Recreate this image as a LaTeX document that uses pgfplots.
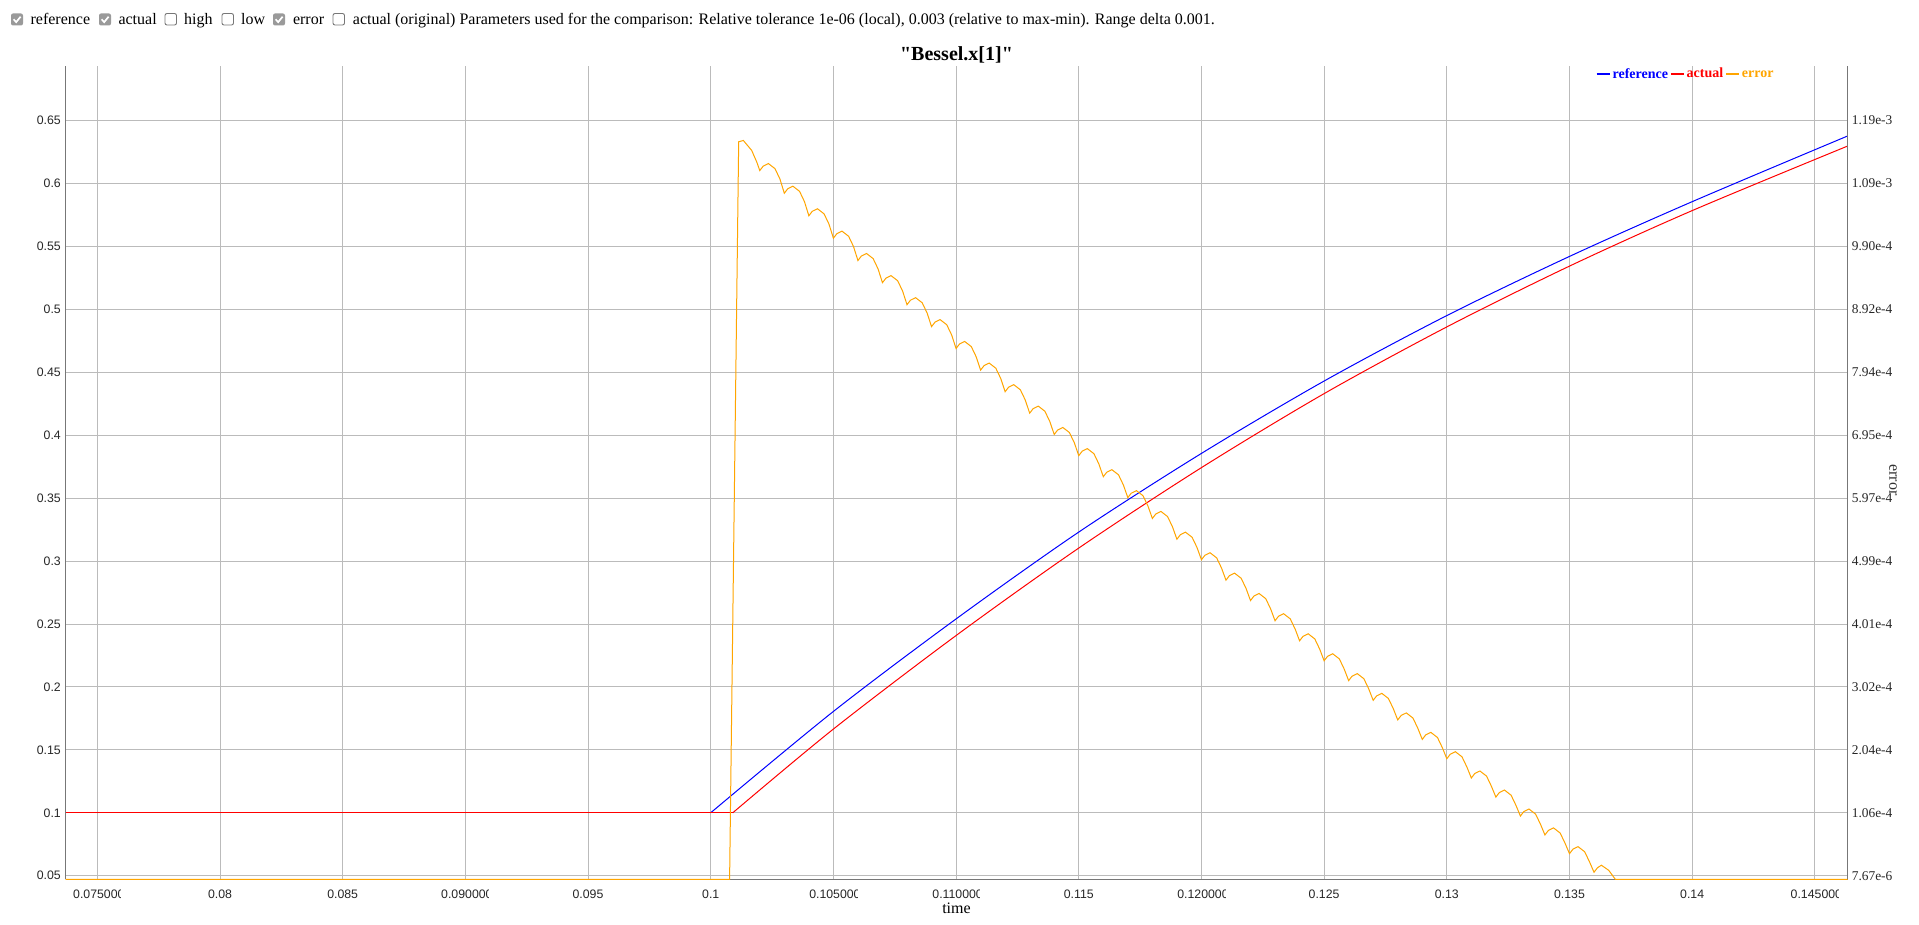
\documentclass[border=0pt]{standalone}
\usepackage{fontspec}
\setmainfont{Liberation Serif}
\newfontfamily\plainserif{Liberation Serif}
\newfontfamily\ticksans{Liberation Sans}
\usepackage{pgfplots}
\pgfplotsset{compat=1.18}
\definecolor{refblue}{HTML}{0000FF}
\definecolor{actred}{HTML}{FF0000}
\definecolor{errorange}{HTML}{FFA500}
\definecolor{gridgray}{HTML}{BBBBBB}
\definecolor{axgray}{HTML}{777777}
\definecolor{cbgray}{HTML}{9A9A9A}
\newsavebox\zbox
\newcommand\cutz{\sbox\zbox{0}\rlap{\usebox\zbox}\hspace*{0.55\wd\zbox}\rlap{\textcolor{white}{\rule[-2pt]{0.7\wd\zbox}{12pt}}}}
\newcommand\cbon[1]{%
  \fill[cbgray, rounded corners=2pt] (#1pt,898.5pt) rectangle ++(12pt,12pt);
  \draw[white, line width=1.7pt] ($(#1pt,898.5pt)+(2.6pt,6.2pt)$) -- ++(2.6pt,-2.8pt) -- ++(4.4pt,5.4pt);}
\newcommand\cboff[1]{%
  \draw[axgray, rounded corners=2pt, line width=0.9pt] (#1pt,899pt) rectangle ++(11.5pt,11.5pt);}
\newcommand\lgs{\rule[-3.5pt]{0pt}{13pt}}
\usetikzlibrary{calc}
\begin{document}
\begin{tikzpicture}
\useasboundingbox (0pt,0pt) rectangle (1919pt,924pt);
% header
\cbon{11}
\node[anchor=base west, inner sep=0pt, font=\fontsize{16}{19}\selectfont] at (30.4pt,899.5pt) {reference};
\cbon{99}
\node[anchor=base west, inner sep=0pt, font=\fontsize{16}{19}\selectfont] at (118.3pt,899.5pt) {actual};
\cboff{165}
\node[anchor=base west, inner sep=0pt, font=\fontsize{16}{19}\selectfont] at (184pt,899.5pt) {high};
\cboff{222}
\node[anchor=base west, inner sep=0pt, font=\fontsize{16}{19}\selectfont] at (241pt,899.5pt) {low};
\cbon{273}
\node[anchor=base west, inner sep=0pt, font=\fontsize{16}{19}\selectfont] at (292.8pt,899.5pt) {error};
\cboff{333}
\node[anchor=base west, inner sep=0pt, font=\fontsize{16}{19}\selectfont] at (352.7pt,899.5pt) {actual (original) Parameters used for the comparison: Relative tolerance 1e-06 (local), 0.003 (relative to max-min). Range delta 0.001.};
% title and labels
\node[anchor=base, inner sep=0pt, font=\plainserif\bfseries\fontsize{20}{24}\selectfont] at (956.5pt,863pt) {"Bessel.x[1]"};
\node[anchor=base, inner sep=0pt, font=\fontsize{16}{19}\selectfont] at (956.5pt,11pt) {time};
\node[anchor=center, inner sep=0pt, rotate=-90, text=black!80, font=\fontsize{16}{19}\selectfont] at (1893pt,444pt) {error};

\begin{axis}[
  at={(65.7pt,44.7pt)}, anchor=south west,
  width=1781.9pt, height=813.3pt, scale only axis,
  xmin=0.073712, xmax=0.146337, ymin=0.04714, ymax=0.6933,
  axis x line*=bottom, axis y line*=left,
  axis line style={axgray, line width=1pt},
  major tick length=0pt,
  grid=major, grid style={gridgray, line width=0.8pt},
  xtick={0.075,0.08,0.085,0.09,0.095,0.1,0.105,0.11,0.115,0.12,0.125,0.13,0.135,0.14,0.145},
  xticklabels={0.07500\cutz,0.08,0.085,0.09000\cutz,0.095,0.1,0.10500\cutz,0.11000\cutz,0.115,0.12000\cutz,0.125,0.13,0.135,0.14,0.14500\cutz},
  ytick={0.05,0.1,0.15,0.2,0.25,0.3,0.35,0.4,0.45,0.5,0.55,0.6,0.65},
  yticklabels={0.05,0.1,0.15,0.2,0.25,0.3,0.35,0.4,0.45,0.5,0.55,0.6,0.65},
  scaled x ticks=false, scaled y ticks=false,
  xticklabel style={anchor=base, inner sep=0pt, yshift=-19pt, font=\ticksans\fontsize{12.3}{14}\selectfont, text=black!85},
  yticklabel style={anchor=east, inner sep=0pt, xshift=-4.7pt, font=\ticksans\fontsize{12.3}{14}\selectfont, text=black!85},
  legend columns=-1,
  legend style={at={(0.8586,1.0)}, anchor=north west, draw=none, fill=none, inner sep=0pt,
    nodes={inner sep=2pt}, font=\bfseries\fontsize{14}{16}\selectfont,
    /tikz/every even column/.append style={column sep=0pt}},
  legend image code/.code={\draw[#1, line width=1.7pt] (0pt,0pt) -- (13pt,0pt);},
]
\addplot[refblue, line width=1pt, forget plot] coordinates {(0.073712,0.1) (0.1,0.1)};
\addplot[refblue, line width=1pt, smooth, tension=0.5] coordinates {
 (0.1,0.1) (0.105,0.1805) (0.11,0.2540) (0.115,0.3230) (0.12,0.3855)
 (0.125,0.4430) (0.13,0.4950) (0.135,0.5420) (0.14,0.5855) (0.146337,0.6377)};
\addplot[actred, line width=1pt, forget plot] coordinates {(0.073712,0.1) (0.1009,0.1)};
\addplot[actred, line width=1pt, smooth, tension=0.5] coordinates {
 (0.1009,0.1) (0.105,0.1665) (0.11,0.2408) (0.115,0.3103) (0.12,0.3742)
 (0.125,0.4330) (0.13,0.4860) (0.135,0.5343) (0.14,0.5784) (0.146337,0.6297)};
\addlegendimage{errorange}
\legend{\lgs\textcolor{refblue}{reference},\lgs\textcolor{actred}{actual},\lgs\textcolor{errorange}{error}}
\end{axis}

\begin{axis}[
  at={(65.7pt,44.7pt)}, anchor=south west,
  width=1781.9pt, height=813.3pt, scale only axis,
  xmin=0.073712, xmax=0.146337, ymin=0, ymax=1.27035e-3,
  axis x line=none, axis y line*=right,
  axis line style={axgray, line width=1pt},
  major tick length=0pt,
  scaled y ticks=false,
  ytick={5.62e-6,1.0392e-4,2.0222e-4,3.0052e-4,3.9882e-4,4.9712e-4,5.9542e-4,6.9372e-4,7.9202e-4,8.9032e-4,9.8862e-4,1.08692e-3,1.18522e-3},
  yticklabels={7.67e-6,1.06e-4,2.04e-4,3.02e-4,4.01e-4,4.99e-4,5.97e-4,6.95e-4,7.94e-4,8.92e-4,9.90e-4,1.09e-3,1.19e-3},
  yticklabel style={anchor=west, inner sep=0pt, xshift=4pt, font=\fontsize{13.4}{15}\selectfont, text=black!85},
]
\addplot[errorange, line width=1pt] coordinates {
 (0.073712,0) (0.10077,0) (0.10114,1152e-6) (0.10133,1154e-6) (0.10167,1138.5e-6) (0.10188,1120e-6)
 (0.10200,1107e-6) (0.10214,1114e-6) (0.10235,1118e-6) (0.10262,1110e-6) (0.10282,1094e-6)
 (0.10300,1071.6e-6) (0.10314,1078.6e-6) (0.10335,1082.6e-6) (0.10362,1074.6e-6) (0.10382,1058.6e-6)
 (0.10400,1036.4e-6) (0.10414,1043.4e-6) (0.10435,1047.4e-6) (0.10462,1039.4e-6) (0.10482,1023.4e-6)
 (0.10500,1001.4e-6) (0.10514,1008.4e-6) (0.10535,1012.4e-6) (0.10562,1004.4e-6) (0.10582,988.4e-6)
 (0.10600,966.5e-6) (0.10614,973.5e-6) (0.10635,977.5e-6) (0.10662,969.5e-6) (0.10682,953.5e-6)
 (0.10700,931.9e-6) (0.10714,938.9e-6) (0.10735,942.9e-6) (0.10762,934.9e-6) (0.10782,918.9e-6)
 (0.10800,897.5e-6) (0.10814,904.5e-6) (0.10835,908.5e-6) (0.10862,900.5e-6) (0.10882,884.5e-6)
 (0.10900,863.2e-6) (0.10914,870.2e-6) (0.10935,874.2e-6) (0.10962,866.2e-6) (0.10982,850.2e-6)
 (0.11000,829.1e-6) (0.11014,836.1e-6) (0.11035,840.1e-6) (0.11062,832.1e-6) (0.11082,816.1e-6)
 (0.11100,795.3e-6) (0.11114,802.3e-6) (0.11135,806.3e-6) (0.11162,798.3e-6) (0.11182,782.3e-6)
 (0.11200,761.6e-6) (0.11214,768.6e-6) (0.11235,772.6e-6) (0.11262,764.6e-6) (0.11282,748.6e-6)
 (0.11300,728.1e-6) (0.11314,735.1e-6) (0.11335,739.1e-6) (0.11362,731.1e-6) (0.11382,715.1e-6)
 (0.11400,694.8e-6) (0.11414,701.8e-6) (0.11435,705.8e-6) (0.11462,697.8e-6) (0.11482,681.8e-6)
 (0.11500,661.7e-6) (0.11514,668.7e-6) (0.11535,672.7e-6) (0.11562,664.7e-6) (0.11582,648.7e-6)
 (0.11600,628.8e-6) (0.11614,635.8e-6) (0.11635,639.8e-6) (0.11662,631.8e-6) (0.11682,615.8e-6)
 (0.11700,596.1e-6) (0.11714,603.1e-6) (0.11735,607.1e-6) (0.11762,599.1e-6) (0.11782,583.1e-6)
 (0.11800,563.6e-6) (0.11814,570.6e-6) (0.11835,574.6e-6) (0.11862,566.6e-6) (0.11882,550.6e-6)
 (0.11900,531.2e-6) (0.11914,538.2e-6) (0.11935,542.2e-6) (0.11962,534.2e-6) (0.11982,518.2e-6)
 (0.12000,499.1e-6) (0.12014,506.1e-6) (0.12035,510.1e-6) (0.12062,502.1e-6) (0.12082,486.1e-6)
 (0.12100,467.2e-6) (0.12114,474.2e-6) (0.12135,478.2e-6) (0.12162,470.2e-6) (0.12182,454.2e-6)
 (0.12200,435.4e-6) (0.12214,442.4e-6) (0.12235,446.4e-6) (0.12262,438.4e-6) (0.12282,422.4e-6)
 (0.12300,403.8e-6) (0.12314,410.8e-6) (0.12335,414.8e-6) (0.12362,406.8e-6) (0.12382,390.8e-6)
 (0.12400,372.5e-6) (0.12414,379.5e-6) (0.12435,383.5e-6) (0.12462,375.5e-6) (0.12482,359.5e-6)
 (0.12500,341.3e-6) (0.12514,348.3e-6) (0.12535,352.3e-6) (0.12562,344.3e-6) (0.12582,328.3e-6)
 (0.12600,310.3e-6) (0.12614,317.3e-6) (0.12635,321.3e-6) (0.12662,313.3e-6) (0.12682,297.3e-6)
 (0.12700,279.5e-6) (0.12714,286.5e-6) (0.12735,290.5e-6) (0.12762,282.5e-6) (0.12782,266.5e-6)
 (0.12800,248.9e-6) (0.12814,255.9e-6) (0.12835,259.9e-6) (0.12862,251.9e-6) (0.12882,235.9e-6)
 (0.12900,218.5e-6) (0.12914,225.5e-6) (0.12935,229.5e-6) (0.12962,221.5e-6) (0.12982,205.5e-6)
 (0.13000,188.3e-6) (0.13014,195.3e-6) (0.13035,199.3e-6) (0.13062,191.3e-6) (0.13082,175.3e-6)
 (0.13100,158.2e-6) (0.13114,165.2e-6) (0.13135,169.2e-6) (0.13162,161.2e-6) (0.13182,145.2e-6)
 (0.13200,128.4e-6) (0.13214,135.4e-6) (0.13235,139.4e-6) (0.13262,131.4e-6) (0.13282,115.4e-6)
 (0.13300,98.8e-6) (0.13314,105.8e-6) (0.13335,109.8e-6) (0.13362,101.8e-6) (0.13382,85.8e-6)
 (0.13400,69.3e-6) (0.13414,76.3e-6) (0.13435,80.3e-6) (0.13462,72.3e-6) (0.13482,56.3e-6)
 (0.13500,40.0e-6) (0.13514,47.0e-6) (0.13535,51.0e-6) (0.13562,43.0e-6) (0.13582,27.0e-6)
 (0.13600,11.0e-6) (0.13614,18.0e-6) (0.13630,22.0e-6) (0.13660,14.0e-6) (0.13687,0)
 (0.146337,0)};
\end{axis}
\end{tikzpicture}
\end{document}
